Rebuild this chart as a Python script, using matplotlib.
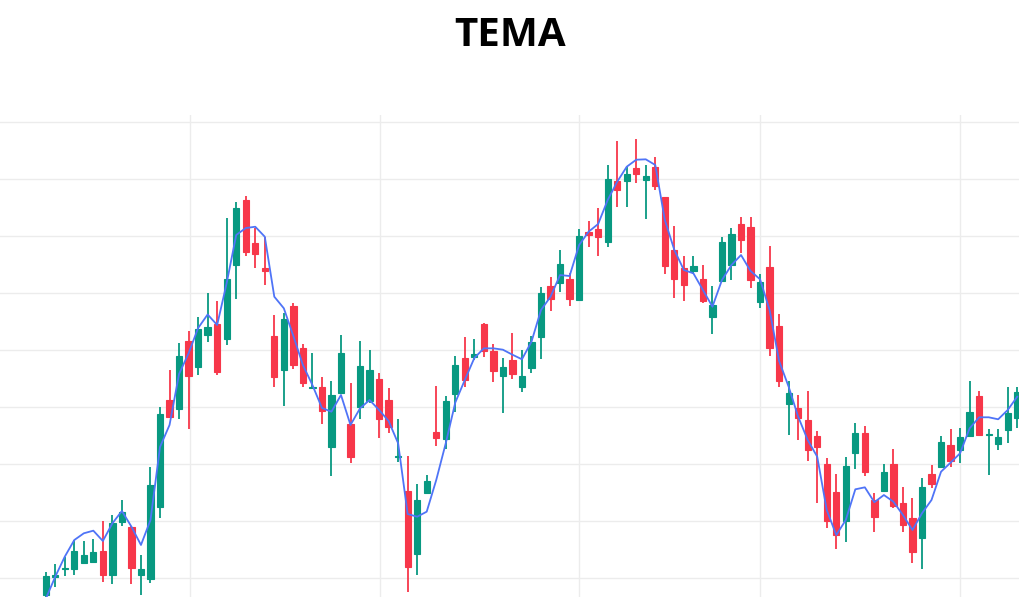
#
# TEMA overlay on daily candlesticks
#
import numpy as np
import matplotlib
matplotlib.use('Agg')
import matplotlib.pyplot as plt

#############################################################
opens = [97.07, 100.28, 101.58, 101.58, 102.63, 102.86, 104.84, 100.58, 109.92, 109.05,
         100.58, 99.93, 112.55, 131.26, 129.73, 141.66, 136.99, 142.66, 144.58, 142.01,
         154.98, 166.32, 158.73, 154.35, 142.53, 136.52, 147.74, 140.32, 133.35, 133.49,
         123.07, 132.54, 127.05, 129.98, 131.14, 134.89, 131.26, 121.21, 115.36, 104.21,
         115.01, 125.60, 124.42, 132.31, 138.68, 138.85, 144.58, 139.80, 135.47, 138.27,
         133.59, 136.82, 142.36, 151.30, 151.82, 152.42, 148.79, 160.66, 161.19, 159.01,
         169.71, 169.65, 171.99, 169.83, 172.16, 166.80, 157.56, 154.46, 153.88, 152.42,
         145.76, 152.18, 154.93, 162.06, 161.64, 148.49, 154.63, 144.29, 130.51, 129.91,
         127.75, 124.95, 120.04, 115.08, 110.10, 121.92, 125.42, 113.73, 115.36, 120.04,
         113.25, 110.62, 107.12, 118.23, 119.46, 123.37, 122.49, 124.95, 131.96, 125.07,
         123.55, 126.00, 128.05]
highs = [101.16, 102.51, 103.79, 106.71, 106.59, 106.84, 109.99, 111.10, 113.73, 109.20,
         104.08, 119.46, 130.09, 136.52, 141.20, 143.41, 145.76, 149.97, 148.62, 163.22,
         165.92, 167.03, 161.36, 159.89, 146.16, 146.46, 148.21, 141.02, 139.45, 135.34,
         134.64, 142.60, 134.29, 141.66, 140.03, 136.05, 133.31, 127.93, 121.44, 116.53,
         118.11, 133.77, 131.96, 138.97, 142.36, 141.90, 144.70, 141.02, 138.68, 142.95,
         140.03, 142.48, 151.12, 152.88, 157.56, 153.47, 161.19, 162.64, 164.87, 172.46,
         176.72, 172.16, 176.97, 172.46, 173.81, 166.90, 161.82, 156.51, 156.51, 154.93,
         151.30, 159.89, 161.47, 163.40, 163.43, 153.30, 158.26, 146.34, 134.59, 132.14,
         132.89, 125.88, 121.04, 118.29, 121.32, 127.28, 126.75, 114.90, 120.04, 122.62,
         116.06, 114.03, 117.53, 119.86, 125.00, 126.18, 126.30, 134.64, 132.89, 126.12,
         126.12, 133.49, 133.59]
lows = [96.55, 98.42, 100.40, 100.58, 102.50, 102.75, 99.40, 99.00, 109.17, 99.00,
        97.07, 99.12, 110.52, 128.10, 127.88, 126.23, 135.64, 141.48, 135.64, 140.90,
        148.97, 156.56, 154.35, 151.42, 133.49, 130.21, 136.75, 133.59, 133.20, 127.05,
        117.94, 132.45, 120.27, 127.88, 130.68, 124.54, 125.53, 120.44, 97.65, 100.58,
        114.90, 123.25, 122.72, 129.21, 133.59, 138.27, 138.85, 134.47, 128.93, 134.94,
        132.71, 135.94, 138.40, 146.86, 150.25, 147.79, 148.67, 158.14, 156.56, 158.14,
        165.04, 165.04, 169.25, 162.99, 168.08, 153.35, 149.09, 148.62, 153.35, 148.21,
        142.83, 152.10, 152.30, 156.98, 150.98, 147.34, 139.03, 133.59, 125.12, 124.25,
        120.62, 113.25, 108.77, 105.08, 106.42, 119.11, 117.94, 108.17, 115.18, 112.27,
        108.17, 102.63, 101.58, 115.78, 119.35, 119.46, 120.16, 124.85, 124.95, 118.11,
        122.49, 123.67, 126.30]
closes = [100.40, 100.53, 101.86, 104.84, 104.08, 104.56, 100.58, 109.75, 111.68, 101.75,
          101.68, 116.30, 128.80, 128.23, 138.97, 135.47, 143.71, 144.11, 136.22, 152.47,
          164.97, 157.26, 156.86, 153.93, 135.24, 145.46, 137.45, 134.29, 133.60, 129.38,
          132.19, 139.45, 121.21, 137.22, 136.52, 127.88, 126.47, 121.44, 101.93, 113.73,
          117.11, 124.65, 131.08, 137.40, 134.77, 139.32, 139.90, 136.34, 137.10, 135.77,
          135.47, 141.48, 149.97, 148.91, 155.10, 148.91, 160.06, 160.19, 159.89, 169.95,
          168.08, 170.83, 170.83, 170.58, 168.78, 154.80, 152.47, 151.42, 154.80, 148.62,
          147.92, 158.91, 160.31, 159.31, 152.30, 152.00, 140.43, 134.59, 132.43, 128.05,
          122.49, 123.07, 110.10, 107.59, 119.74, 125.42, 118.58, 110.69, 118.69, 112.68,
          109.34, 104.66, 115.95, 116.53, 123.84, 120.62, 124.72, 129.21, 125.12, 125.30,
          124.72, 129.03, 132.66]
tema = [96.37, 100.28, 103.79, 106.71, 107.89, 108.35, 106.54, 109.64, 111.80, 109.05,
        105.84, 110.22, 123.02, 126.88, 135.82, 139.45, 143.88, 146.25, 144.41, 151.77,
        160.19, 161.41, 161.64, 159.89, 149.37, 147.34, 142.48, 137.40, 133.89, 129.86,
        129.21, 132.14, 126.88, 129.80, 131.26, 129.51, 127.58, 123.67, 111.27, 110.80,
        111.68, 117.23, 123.67, 130.82, 134.77, 138.62, 140.32, 140.32, 140.08, 139.20,
        138.40, 141.48, 147.04, 149.37, 153.17, 153.00, 158.43, 160.77, 162.12, 166.32,
        169.53, 172.16, 173.39, 173.46, 172.46, 162.82, 157.56, 154.05, 153.47, 150.55,
        147.62, 152.30, 154.93, 156.68, 153.88, 152.42, 147.04, 138.10, 133.59, 128.33,
        124.25, 121.32, 111.97, 107.59, 110.22, 115.60, 115.95, 113.34, 114.60, 113.43,
        111.10, 108.47, 111.40, 113.73, 118.69, 120.27, 121.92, 126.30, 128.23, 128.23,
        127.88, 129.51, 131.84]

GREEN = '#089981'
RED = '#f7374a'
BLUE = '#4f74f7'
GRID = '#ececec'
XGRID = [15.15, 35.1, 55.96, 75.0, 96.0]   # month starts (index units)

######################################################
o = np.array(opens)
h = np.array(highs)
l = np.array(lows)
c = np.array(closes)
x = np.arange(len(o))
colors = np.where(c >= o, GREEN, RED)

fig = plt.figure(figsize=(10.2, 5.97), dpi=100)
ax = fig.add_axes([0, 0, 1, 482 / 597])

ax.vlines(x, l, h, colors=colors, linewidth=1.3, zorder=2)
ax.bar(x, np.abs(c - o), bottom=np.minimum(o, c), width=0.66,
       color=colors, edgecolor=colors, linewidth=0.8, zorder=3)
ax.plot(x, tema, color=BLUE, lw=1.3, zorder=4)

ax.set_xlim(-4.8, 102.29)
ax.set_ylim(96.72, 181.23)
ax.set_xticks(XGRID)
ax.set_yticks(np.arange(100, 181, 10))
ax.tick_params(length=0, labelbottom=False, labelleft=False)
ax.grid(True, color=GRID, lw=1)
ax.set_axisbelow(True)
for s in ax.spines.values():
    s.set_visible(False)

fig.text(0.5, 1 - 36 / 597, 'TEMA', ha='center', va='center',
         fontsize=29, fontweight='bold', family=['Open Sans', 'DejaVu Sans'])

fig.savefig('out.png', dpi=100)
